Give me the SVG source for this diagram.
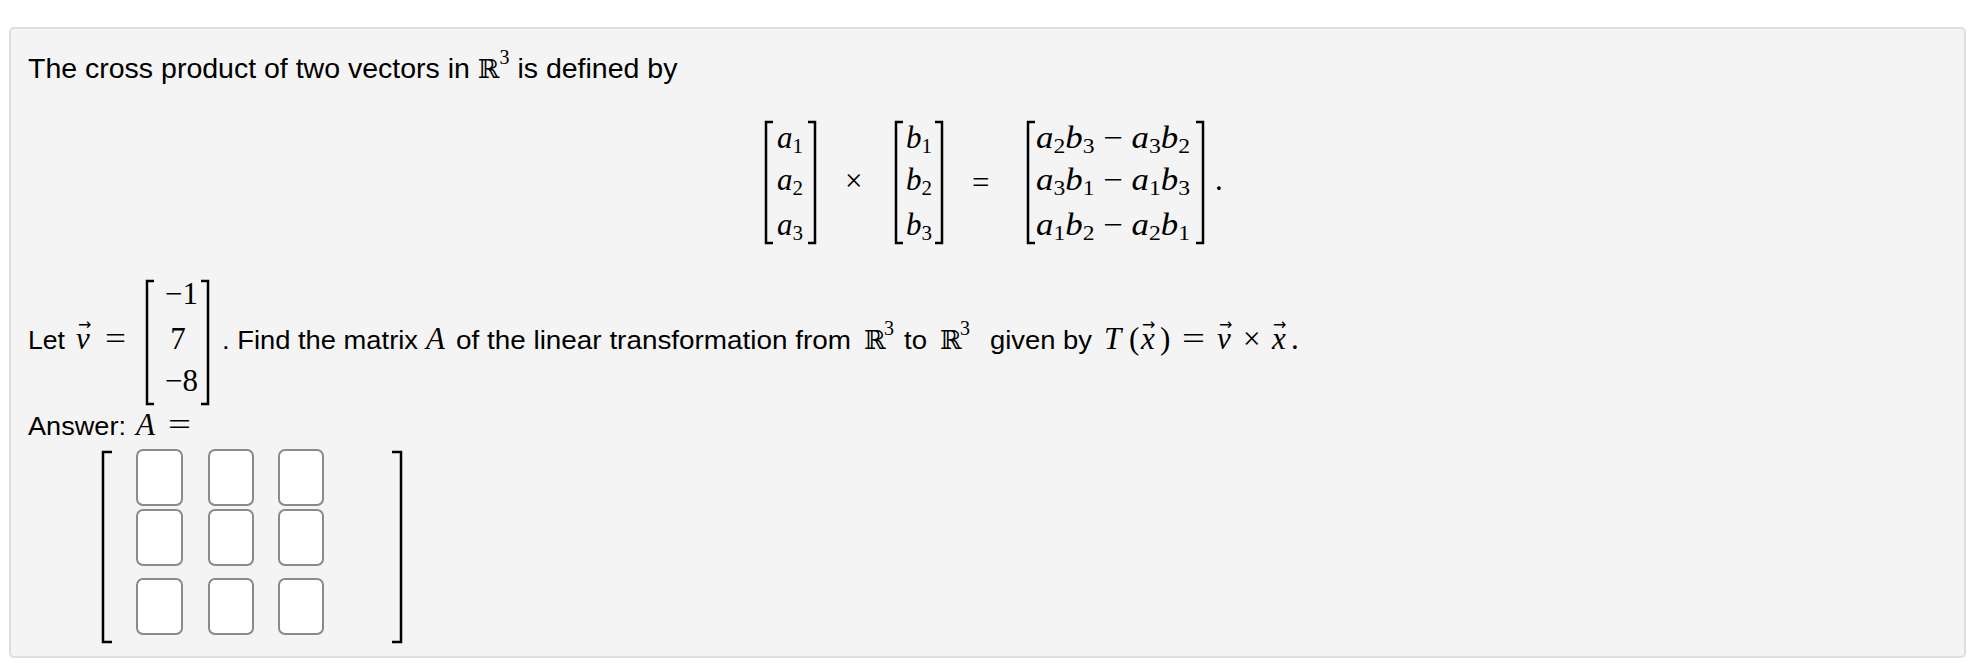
<svg xmlns="http://www.w3.org/2000/svg" width="1975" height="669" viewBox="0 0 1975 669">
<style>
.s{font-family:"Liberation Sans",Arial,sans-serif;font-size:26px;fill:#000}
.m{font-family:"Liberation Serif","Times New Roman",serif;font-size:31px;fill:#000}
.r{font-family:"DejaVu Serif",serif;font-size:26px;fill:#000}
.sup{font-family:"Liberation Serif",serif;font-size:20px;fill:#000}
.ar{font-family:"DejaVu Sans",sans-serif;font-size:16px;fill:#000}
.i{font-style:italic}
.br{fill:none;stroke:#000;stroke-width:2.5}
.box{fill:#fff;stroke:#8a8a8a;stroke-width:2}
</style>
<rect width="1975" height="669" fill="#fff"/>
<rect x="10" y="28" width="1955" height="629" rx="4" fill="#f4f4f4" stroke="#dedede" stroke-width="2"/>
<g id="line1">
<text class="s" x="28" y="78" style="font-size:28.5px">The cross product of two vectors in <tspan font-family="DejaVu Serif" font-size="26">ℝ</tspan><tspan font-family="Liberation Serif" font-size="20" dy="-14">3</tspan><tspan dy="14"> is defined by</tspan></text>
</g>
<g id="equation">
<path class="br" d="M773 122 H766 V243 H773 M808 122 H815 V243 H808"/>
<text class="m" x="777" y="148"><tspan class="i">a</tspan><tspan font-size="21" dy="5">1</tspan></text>
<text class="m" x="777" y="190"><tspan class="i">a</tspan><tspan font-size="21" dy="5">2</tspan></text>
<text class="m" x="777" y="235"><tspan class="i">a</tspan><tspan font-size="21" dy="5">3</tspan></text>
<text class="m" x="845" y="191">×</text>
<path class="br" d="M903 122 H896 V243 H903 M935 122 H942 V243 H935"/>
<text class="m" x="906" y="148"><tspan class="i">b</tspan><tspan font-size="21" dy="5">1</tspan></text>
<text class="m" x="906" y="190"><tspan class="i">b</tspan><tspan font-size="21" dy="5">2</tspan></text>
<text class="m" x="906" y="235"><tspan class="i">b</tspan><tspan font-size="21" dy="5">3</tspan></text>
<text class="m" x="972" y="193">=</text>
<path class="br" d="M1035 122 H1028 V243 H1035 M1196 122 H1203 V243 H1196"/>
<text class="m" x="1036" y="148" textLength="154" lengthAdjust="spacingAndGlyphs"><tspan class="i">a</tspan><tspan font-size="21" dy="5">2</tspan><tspan class="i" dy="-5">b</tspan><tspan font-size="21" dy="5">3</tspan><tspan dy="-5"> − </tspan><tspan class="i">a</tspan><tspan font-size="21" dy="5">3</tspan><tspan class="i" dy="-5">b</tspan><tspan font-size="21" dy="5">2</tspan></text>
<text class="m" x="1036" y="190" textLength="154" lengthAdjust="spacingAndGlyphs"><tspan class="i">a</tspan><tspan font-size="21" dy="5">3</tspan><tspan class="i" dy="-5">b</tspan><tspan font-size="21" dy="5">1</tspan><tspan dy="-5"> − </tspan><tspan class="i">a</tspan><tspan font-size="21" dy="5">1</tspan><tspan class="i" dy="-5">b</tspan><tspan font-size="21" dy="5">3</tspan></text>
<text class="m" x="1036" y="235" textLength="154" lengthAdjust="spacingAndGlyphs"><tspan class="i">a</tspan><tspan font-size="21" dy="5">1</tspan><tspan class="i" dy="-5">b</tspan><tspan font-size="21" dy="5">2</tspan><tspan dy="-5"> − </tspan><tspan class="i">a</tspan><tspan font-size="21" dy="5">2</tspan><tspan class="i" dy="-5">b</tspan><tspan font-size="21" dy="5">1</tspan></text>
<text class="m" x="1215" y="190">.</text>
</g>
<g id="line2">
<text class="s" x="28" y="349" textLength="37" lengthAdjust="spacingAndGlyphs">Let</text>
<text class="m i" x="76" y="349">v</text>
<text class="ar" x="78" y="330">→</text>
<text class="m" x="105" y="349" textLength="21" lengthAdjust="spacingAndGlyphs">=</text>
<path class="br" d="M154 281 H147 V404 H154 M201 281 H208 V404 H201"/>
<text class="m" x="198" y="304" text-anchor="end">−1</text>
<text class="m" x="178" y="349" text-anchor="middle">7</text>
<text class="m" x="198" y="391" text-anchor="end">−8</text>
<text class="s" x="222" y="349" textLength="196" lengthAdjust="spacingAndGlyphs">. Find the matrix</text>
<text class="m i" x="426" y="349">A</text>
<text class="s" x="456" y="349" textLength="395" lengthAdjust="spacingAndGlyphs">of the linear transformation from</text>
<text class="r" x="864" y="349">ℝ</text>
<text class="sup" x="884" y="335">3</text>
<text class="s" x="904" y="349" textLength="23" lengthAdjust="spacingAndGlyphs">to</text>
<text class="r" x="940" y="349">ℝ</text>
<text class="sup" x="960" y="335">3</text>
<text class="s" x="990" y="349" textLength="102" lengthAdjust="spacingAndGlyphs">given by</text>
<text class="m i" x="1104" y="349">T</text>
<text class="m" x="1129" y="349">(</text>
<text class="m i" x="1141" y="349">x</text>
<text class="ar" x="1142" y="330">→</text>
<text class="m" x="1160" y="349">)</text>
<text class="m" x="1182" y="349" textLength="23" lengthAdjust="spacingAndGlyphs">=</text>
<text class="m i" x="1217" y="349">v</text>
<text class="ar" x="1219" y="330">→</text>
<text class="m" x="1243" y="349">×</text>
<text class="m i" x="1272" y="349">x</text>
<text class="ar" x="1273" y="330">→</text>
<text class="m" x="1291" y="349">.</text>
</g>
<g id="answer">
<text class="s" x="28" y="435" textLength="98" lengthAdjust="spacingAndGlyphs">Answer:</text>
<text class="m i" x="136" y="435">A</text>
<text class="m" x="168" y="435" textLength="23" lengthAdjust="spacingAndGlyphs">=</text>
<path class="br" d="M112 452 H103 V642 H112 M392 452 H401 V642 H392"/>
<rect class="box" x="137" y="450" width="45" height="55" rx="6"/>
<rect class="box" x="209" y="450" width="44" height="55" rx="6"/>
<rect class="box" x="279" y="450" width="44" height="55" rx="6"/>
<rect class="box" x="137" y="510" width="45" height="55" rx="6"/>
<rect class="box" x="209" y="510" width="44" height="55" rx="6"/>
<rect class="box" x="279" y="510" width="44" height="55" rx="6"/>
<rect class="box" x="137" y="579" width="45" height="55" rx="6"/>
<rect class="box" x="209" y="579" width="44" height="55" rx="6"/>
<rect class="box" x="279" y="579" width="44" height="55" rx="6"/>
</g>
</svg>
